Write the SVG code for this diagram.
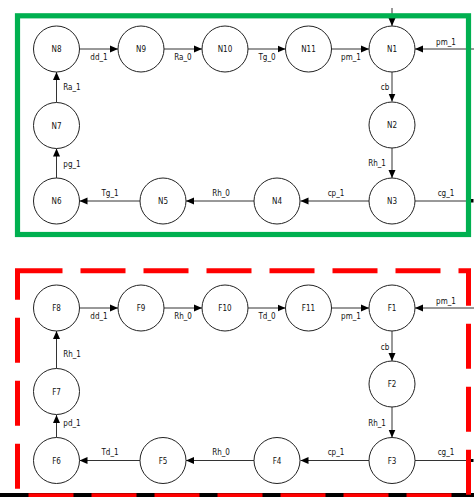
<svg xmlns="http://www.w3.org/2000/svg" width="474" height="497" viewBox="0 0 474 497">
<defs>
<marker id="arr" markerUnits="userSpaceOnUse" markerWidth="9" markerHeight="8" refX="8" refY="4" orient="auto">
<path d="M0,0.5 L8,4 L0,7.5 z" fill="#000"/>
</marker>
<marker id="sq" markerUnits="userSpaceOnUse" markerWidth="4" markerHeight="4" refX="1" refY="2" orient="auto">
<rect x="0" y="0" width="3.5" height="3.5" fill="#000"/>
</marker>
<style>
.n circle{fill:#fff;stroke:#222;stroke-width:1}
.n text{font-family:"DejaVu Sans Condensed","DejaVu Sans",sans-serif;font-size:8px;fill:#111;text-anchor:middle}
.e{stroke:#333;stroke-width:1;fill:none;marker-end:url(#arr)}
.l{font-family:"DejaVu Sans Condensed","DejaVu Sans",sans-serif;font-size:8px;fill:#111;text-anchor:middle}
</style>
</defs>
<rect width="474" height="497" fill="#fff"/>
<g id="connectors">
<line class="e" x1="392" y1="8" x2="392" y2="26"/>
<line class="e" x1="474" y1="49" x2="415" y2="49"/>
<line class="e" x1="79.5" y1="49" x2="118" y2="49"/>
<line class="e" x1="163.5" y1="49" x2="202" y2="49"/>
<line class="e" x1="247.5" y1="49" x2="285.5" y2="49"/>
<line class="e" x1="331" y1="49" x2="369" y2="49"/>
<line class="e" x1="392" y1="72" x2="392" y2="101.5"/>
<line class="e" x1="392" y1="148" x2="392" y2="178"/>
<line class="e" x1="369" y1="201" x2="300.5" y2="201"/>
<line class="e" x1="254" y1="201" x2="186" y2="201"/>
<line class="e" x1="140" y1="201" x2="79.5" y2="201"/>
<line class="e" x1="56.5" y1="178" x2="56.5" y2="148.5"/>
<line class="e" x1="56.5" y1="102.5" x2="56.5" y2="72"/>
<line x1="415" y1="201" x2="471" y2="201" stroke="#333" stroke-width="1" marker-end="url(#sq)"/>
<text class="l" x="99" y="60">dd_1</text>
<text class="l" x="183" y="60">Ra_0</text>
<text class="l" x="267" y="60">Tg_0</text>
<text class="l" x="351" y="60">pm_1</text>
<text class="l" x="446" y="45">pm_1</text>
<text class="l" x="385" y="90">cb</text>
<text class="l" x="377" y="166">Rh_1</text>
<text class="l" x="336" y="196">cp_1</text>
<text class="l" x="446" y="196">cg_1</text>
<text class="l" x="221" y="196">Rh_0</text>
<text class="l" x="110" y="196">Tg_1</text>
<text class="l" x="72" y="167">pg_1</text>
<text class="l" x="72" y="90">Ra_1</text>

<line class="e" x1="474" y1="308" x2="415" y2="308"/>
<line class="e" x1="79.5" y1="308" x2="118" y2="308"/>
<line class="e" x1="163.5" y1="308" x2="202" y2="308"/>
<line class="e" x1="247.5" y1="308" x2="285.5" y2="308"/>
<line class="e" x1="331" y1="308" x2="369" y2="308"/>
<line class="e" x1="392" y1="331" x2="392" y2="361"/>
<line class="e" x1="392" y1="407" x2="392" y2="437.5"/>
<line class="e" x1="369" y1="460.5" x2="300.5" y2="460.5"/>
<line class="e" x1="254" y1="460.5" x2="186" y2="460.5"/>
<line class="e" x1="140" y1="460.5" x2="79.5" y2="460.5"/>
<line class="e" x1="56.5" y1="437.5" x2="56.5" y2="415"/>
<line class="e" x1="56.5" y1="368.5" x2="56.5" y2="331"/>
<line x1="415" y1="460.5" x2="471" y2="460.5" stroke="#333" stroke-width="1" marker-end="url(#sq)"/>
<text class="l" x="99" y="319">dd_1</text>
<text class="l" x="183" y="319">Rh_0</text>
<text class="l" x="267" y="319">Td_0</text>
<text class="l" x="351" y="319">pm_1</text>
<text class="l" x="446" y="304">pm_1</text>
<text class="l" x="385" y="350">cb</text>
<text class="l" x="377" y="426">Rh_1</text>
<text class="l" x="336" y="455">cp_1</text>
<text class="l" x="446" y="455">cg_1</text>
<text class="l" x="221" y="455">Rh_0</text>
<text class="l" x="110" y="455">Td_1</text>
<text class="l" x="72" y="426">pd_1</text>
<text class="l" x="72" y="357">Rh_1</text>
</g>
<g id="N8" class="n"><circle cx="56.5" cy="49" r="23"/><text x="56.5" y="52">N8</text></g>
<g id="N9" class="n"><circle cx="141" cy="49" r="23"/><text x="141" y="52">N9</text></g>
<g id="N10" class="n"><circle cx="225" cy="49" r="23"/><text x="225" y="52">N10</text></g>
<g id="N11" class="n"><circle cx="308.5" cy="49" r="23"/><text x="308.5" y="52">N11</text></g>
<g id="N1" class="n"><circle cx="392" cy="49" r="23"/><text x="392" y="52">N1</text></g>
<g id="N2" class="n"><circle cx="392" cy="125" r="23"/><text x="392" y="128">N2</text></g>
<g id="N3" class="n"><circle cx="392" cy="201" r="23"/><text x="392" y="204">N3</text></g>
<g id="N4" class="n"><circle cx="277" cy="201" r="23"/><text x="277" y="204">N4</text></g>
<g id="N5" class="n"><circle cx="163" cy="201" r="23"/><text x="163" y="204">N5</text></g>
<g id="N6" class="n"><circle cx="56.5" cy="201" r="23"/><text x="56.5" y="204">N6</text></g>
<g id="N7" class="n"><circle cx="56.5" cy="125.5" r="23"/><text x="56.5" y="128.5">N7</text></g>

<g id="F8" class="n"><circle cx="56.5" cy="308" r="23"/><text x="56.5" y="311">F8</text></g>
<g id="F9" class="n"><circle cx="141" cy="308" r="23"/><text x="141" y="311">F9</text></g>
<g id="F10" class="n"><circle cx="225" cy="308" r="23"/><text x="225" y="311">F10</text></g>
<g id="F11" class="n"><circle cx="308.5" cy="308" r="23"/><text x="308.5" y="311">F11</text></g>
<g id="F1" class="n"><circle cx="392" cy="308" r="23"/><text x="392" y="311">F1</text></g>
<g id="F2" class="n"><circle cx="392" cy="384" r="23"/><text x="392" y="387">F2</text></g>
<g id="F3" class="n"><circle cx="392" cy="460.5" r="23"/><text x="392" y="463.5">F3</text></g>
<g id="F4" class="n"><circle cx="277" cy="460.5" r="23"/><text x="277" y="463.5">F4</text></g>
<g id="F5" class="n"><circle cx="163" cy="460.5" r="23"/><text x="163" y="463.5">F5</text></g>
<g id="F6" class="n"><circle cx="56.5" cy="460.5" r="23"/><text x="56.5" y="463.5">F6</text></g>
<g id="F7" class="n"><circle cx="56.5" cy="391.5" r="23"/><text x="56.5" y="394.5">F7</text></g>

<g id="containers">
<rect x="17.5" y="15.8" width="451" height="218.7" fill="none" stroke="#00B050" stroke-width="5.2"/>
<rect x="0" y="493" width="474" height="4" fill="#000"/>
<rect x="17.5" y="270.8" width="451" height="225" fill="none" stroke="#FF0000" stroke-width="5" stroke-dasharray="45 18"/>
</g>
</svg>
